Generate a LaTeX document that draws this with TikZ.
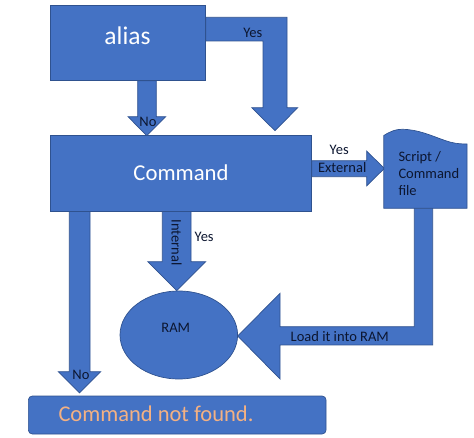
\documentclass[tikz,border=0pt]{standalone}
\usepackage{fontspec}
\setmainfont{Carlito}
\usetikzlibrary{shapes.geometric}
\definecolor{ofblue}{HTML}{4472C4}
\definecolor{ofedge}{HTML}{2F528F}
\definecolor{labtext}{HTML}{0C1630}
\definecolor{peach}{HTML}{F4B183}
\tikzset{
  blk/.style={fill=ofblue, draw=ofedge, line width=0.7pt, line join=miter},
  boxnode/.style={blk, rectangle, inner sep=0pt, outer sep=0pt},
  lab/.style={text=labtext, inner sep=0pt, font=\fontsize{14.5}{17}\selectfont},
  bigw/.style={text=white, inner sep=0pt},
}
\begin{document}
\begin{tikzpicture}[x=1pt, y=-1pt]
\useasboundingbox (0,0) rectangle (474,438);
% ---- block arrows (drawn first, behind boxes)
% alias -> Command (Yes, bent)
\draw[blk] (205.7,17.3) -- (287,17.3) -- (287,107.7) -- (297.7,107.7) -- (275,130.7)
  -- (251.7,107.7) -- (263,107.7) -- (263,41) -- (205.7,41) -- cycle;
% alias -> Command (No)
\draw[blk] (137.7,80.7) -- (137.7,116.7) -- (128,116.7) -- (146.8,135.7)
  -- (165.7,116.7) -- (156.3,116.7) -- (156.3,80.7) -- cycle;
% Command -> Script (External)
\draw[blk] (311.7,160.7) -- (366.7,160.7) -- (366.7,151) -- (384.3,168.5)
  -- (366.7,185.9) -- (366.7,176.7) -- (311.7,176.7) -- cycle;
% Command -> RAM (Internal)
\draw[blk] (162.3,211) -- (162.3,261.7) -- (147.7,261.7) -- (176.7,290.6)
  -- (205.7,261.7) -- (191,261.7) -- (191,211) -- cycle;
% Command -> not found (No)
\draw[blk] (69.3,211) -- (69.3,371.7) -- (58.3,371.7) -- (79.5,392.8)
  -- (100.7,371.7) -- (90,371.7) -- (90,211) -- cycle;
% Script -> RAM (Load it into RAM)
\draw[blk] (414.3,208.3) -- (414.3,326.7) -- (280,326.7) -- (280,293.3) -- (237.7,336)
  -- (280,379) -- (280,345) -- (432.7,345) -- (432.7,208.3) -- cycle;
% ---- boxes
\node[boxnode, minimum width=155pt, minimum height=75pt] (alias) at (128.3,43.2) {};
\node[boxnode, minimum width=261pt, minimum height=75.3pt] (cmd) at (181.2,173.4) {};
\node[blk, ellipse, inner sep=0pt, outer sep=0pt, minimum width=117.6pt, minimum height=88pt] (ram) at (178.8,335) {};
\node[boxnode, rounded corners=4pt, minimum width=297.7pt, minimum height=38pt] (nf) at (177.2,415) {};
\draw[blk] (383.8,208.3) -- (383.8,135.5) .. controls (391,131) and (396,129.3) .. (402,129.3)
  .. controls (418,129.3) and (432,136) .. (445,140.5)
  .. controls (452,143) and (458,144) .. (467,144) -- (467,208.3) -- cycle;
\coordinate (script) at (425,170);
% ---- texts
\node[bigw, anchor=base, font=\fontsize{25.5}{30}\selectfont] (taias) at (127.5,44.3) {alias};
\node[bigw, anchor=base, font=\fontsize{22.7}{27}\selectfont] (tcmd) at (181,180.7) {Command};
\node[anchor=base west, inner sep=0pt, text=peach, font=\fontsize{22.5}{27}\selectfont] (tnf) at (58.3,421.7) {Command not found.};
\node[lab, anchor=base] (y1) at (252.8,37.2) {Yes};
\node[lab, anchor=base] (n1) at (148,126.7) {No};
\node[lab, anchor=base] (y2) at (339.2,155) {Yes};
\node[lab, anchor=base] (ext) at (342.2,172.9) {External};
\node[lab, anchor=base west] (s1) at (398.3,161.7) {Script /};
\node[lab, anchor=base west] (s2) at (398.3,179) {Command};
\node[lab, anchor=base west] (s3) at (398.3,196) {file};
\node[lab, rotate=-90] (int) at (176.5,242.5) {Internal};
\node[lab, anchor=base] (y3) at (204.2,241.7) {Yes};
\node[lab, anchor=base] (tram) at (175.8,332.3) {RAM};
\node[lab, anchor=base west] (load) at (290.5,341.7) {Load it into RAM};
\node[lab, anchor=base] (n2) at (81,380) {No};
\end{tikzpicture}
\end{document}
